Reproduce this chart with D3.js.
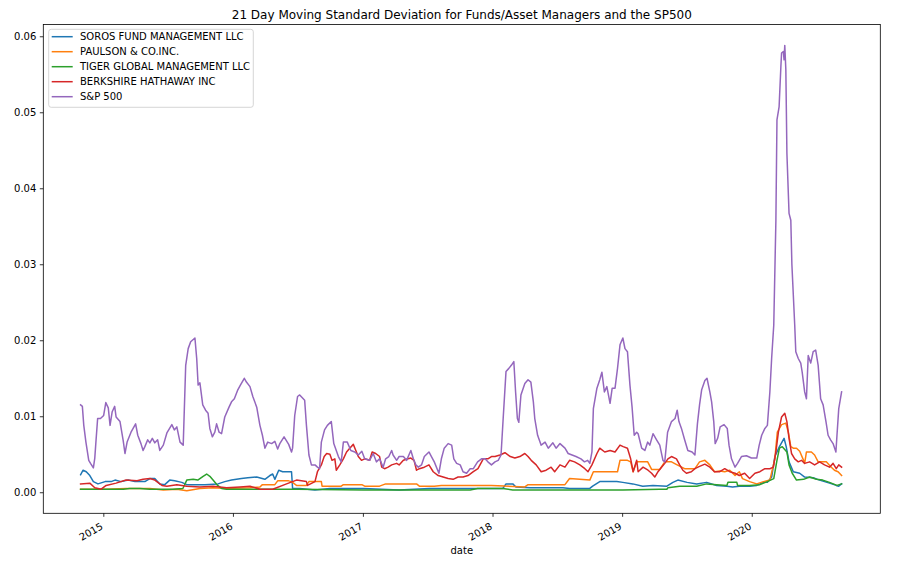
<!DOCTYPE html>
<html>
<head>
    <title>21 Day Moving Standard Deviation</title>
    <style>
        body { margin: 0; background: #fff; }
        svg, svg text { font-family: "DejaVu Sans", sans-serif; }
        .tick text { font-size: 10px; fill: #000; font-family: "DejaVu Sans", sans-serif; }
        .series { fill: none; stroke-width: 1.5px; stroke-linejoin: round; stroke-linecap: square; }
    </style>
    <script src="https://d3js.org/d3.v7.min.js"></script>
</head>
<body>
<svg width="921" height="563"></svg>
<script>
// series names and colours (legend order)
const seriesNames = ["SOROS FUND MANAGEMENT LLC", "PAULSON & CO.INC.", "TIGER GLOBAL MANAGEMENT LLC", "BERKSHIRE HATHAWAY INC", "S&P 500"];
const seriesColors = ["#1f77b4", "#ff7f0e", "#2ca02c", "#d62728", "#9467bd"];
const yTicks = [0.00, 0.01, 0.02, 0.03, 0.04, 0.05, 0.06];
const xTickYears = ["2015", "2016", "2017", "2018", "2019", "2020"];

// values, one [date, std] list per series
const soros = [
["2014-10-29",0.0023],["2014-11-05",0.0029],["2014-11-14",0.0027],["2014-11-24",0.0022],["2014-12-04",0.0014],
["2014-12-17",0.0011],["2015-01-06",0.0014],["2015-01-23",0.0014],["2015-02-03",0.0016],["2015-02-20",0.0014],
["2015-03-12",0.0016],["2015-03-31",0.0014],["2015-04-28",0.0014],["2015-05-12",0.0018],["2015-05-26",0.0018],
["2015-06-09",0.0011],["2015-06-23",0.0010],["2015-07-07",0.0016],["2015-07-21",0.0015],["2015-08-10",0.0013],
["2015-08-24",0.0010],["2015-09-16",0.0010],["2015-10-14",0.0010],["2015-11-20",0.0011],["2015-12-09",0.0014],
["2015-12-28",0.0016],["2016-01-25",0.0018],["2016-02-12",0.0019],["2016-03-08",0.0020],["2016-03-31",0.0017],
["2016-04-14",0.0022],["2016-04-22",0.0024],["2016-04-28",0.0017],["2016-05-09",0.0029],["2016-05-20",0.0027],
["2016-06-06",0.0027],["2016-06-14",0.0027],["2016-06-17",0.0005],["2016-07-07",0.0005],["2016-08-19",0.0003],
["2016-09-30",0.0005],["2017-01-03",0.0005],["2017-04-13",0.0003],["2017-07-07",0.0005],["2018-01-30",0.0005],
["2018-02-08",0.0011],["2018-02-27",0.0011],["2018-03-08",0.0007],["2018-04-17",0.0006],["2018-07-18",0.0006],
["2018-08-06",0.0005],["2018-10-02",0.0005],["2018-10-10",0.0008],["2018-10-30",0.0014],["2018-12-17",0.0014],
["2019-01-03",0.0013],["2019-01-31",0.0011],["2019-02-28",0.0008],["2019-03-29",0.0009],["2019-05-07",0.0008],
["2019-05-24",0.0013],["2019-06-07",0.0016],["2019-07-03",0.0013],["2019-07-30",0.0011],["2019-08-27",0.0013],
["2019-09-24",0.0009],["2019-10-23",0.0008],["2019-11-08",0.0007],["2019-11-27",0.0008],["2019-12-26",0.0008],
["2020-01-15",0.0009],["2020-02-03",0.0013],["2020-02-14",0.0013],["2020-02-26",0.0020],["2020-03-06",0.0047],
["2020-03-19",0.0060],["2020-04-01",0.0071],["2020-04-07",0.0060],["2020-04-15",0.0040],["2020-04-27",0.0027],
["2020-05-15",0.0025],["2020-05-29",0.0020],["2020-06-22",0.0019],["2020-07-10",0.0016],["2020-08-07",0.0012],
["2020-08-26",0.0009],["2020-09-02",0.0008],["2020-09-10",0.0011]
];

const paulson = [
["2014-10-29",0.0004],["2015-01-09",0.0004],["2015-03-06",0.0005],["2015-05-12",0.0005],["2015-06-19",0.0003],
["2015-07-27",0.0004],["2015-08-24",0.0002],["2015-09-30",0.0005],["2015-11-06",0.0006],["2015-12-14",0.0005],
["2016-02-18",0.0006],["2016-03-17",0.0007],["2016-03-24",0.0010],["2016-04-28",0.0010],["2016-05-06",0.0015],
["2016-06-06",0.0015],["2016-06-14",0.0014],["2016-06-28",0.0009],["2016-07-26",0.0009],["2016-08-02",0.0014],
["2016-09-06",0.0014],["2016-09-08",0.0008],["2016-11-01",0.0008],["2016-11-07",0.0010],["2016-12-29",0.0010],
["2017-01-06",0.0008],["2017-02-17",0.0008],["2017-03-06",0.0011],["2017-06-01",0.0011],["2017-06-09",0.0008],
["2017-07-21",0.0008],["2017-08-10",0.0009],["2017-10-20",0.0009],["2017-12-29",0.0009],["2018-04-02",0.0007],
["2018-04-11",0.0010],["2018-07-24",0.0010],["2018-08-06",0.0018],["2018-10-02",0.0016],["2018-10-12",0.0027],
["2018-12-19",0.0027],["2018-12-26",0.0042],["2019-01-16",0.0042],["2019-01-25",0.0040],["2019-02-01",0.0027],
["2019-02-11",0.0040],["2019-03-14",0.0040],["2019-03-25",0.0030],["2019-04-17",0.0030],["2019-05-01",0.0040],
["2019-05-20",0.0040],["2019-06-05",0.0036],["2019-06-26",0.0031],["2019-07-25",0.0031],["2019-08-07",0.0040],
["2019-08-22",0.0042],["2019-09-05",0.0036],["2019-09-18",0.0027],["2019-10-03",0.0028],["2019-10-17",0.0027],
["2019-10-31",0.0029],["2019-11-15",0.0022],["2019-11-27",0.0027],["2019-12-06",0.0018],["2019-12-26",0.0014],
["2020-01-15",0.0011],["2020-02-03",0.0014],["2020-02-21",0.0016],["2020-03-06",0.0044],["2020-03-13",0.0079],
["2020-03-25",0.0089],["2020-04-06",0.0091],["2020-04-13",0.0079],["2020-04-20",0.0060],["2020-04-27",0.0058],
["2020-05-06",0.0058],["2020-05-15",0.0054],["2020-05-26",0.0042],["2020-05-29",0.0038],["2020-06-03",0.0053],
["2020-06-17",0.0053],["2020-06-26",0.0049],["2020-07-06",0.0040],["2020-07-29",0.0040],["2020-08-12",0.0033],
["2020-08-21",0.0029],["2020-08-31",0.0027],["2020-09-10",0.0022]
];

const tiger = [
["2014-10-29",0.0004],["2015-02-26",0.0004],["2015-03-16",0.0005],["2015-04-14",0.0005],["2015-05-12",0.0004],
["2015-07-16",0.0004],["2015-08-13",0.0005],["2015-08-24",0.0016],["2015-09-11",0.0017],["2015-09-24",0.0016],
["2015-10-09",0.0021],["2015-10-19",0.0024],["2015-10-28",0.0021],["2015-11-06",0.0016],["2015-11-19",0.0009],
["2015-11-30",0.0005],["2015-12-14",0.0004],["2016-06-30",0.0004],["2017-01-03",0.0003],["2017-10-30",0.0003],
["2017-11-20",0.0005],["2018-01-30",0.0005],["2018-02-27",0.0003],["2018-10-30",0.0003],["2019-01-03",0.0003],
["2019-04-17",0.0004],["2019-05-07",0.0004],["2019-05-10",0.0006],["2019-06-12",0.0008],["2019-07-30",0.0008],
["2019-08-27",0.0011],["2019-10-23",0.0009],["2019-10-26",0.0013],["2019-11-20",0.0013],["2019-11-22",0.0009],
["2019-12-26",0.0009],["2020-01-24",0.0010],["2020-02-14",0.0014],["2020-03-03",0.0018],["2020-03-12",0.0042],
["2020-03-19",0.0058],["2020-03-27",0.0060],["2020-04-09",0.0053],["2020-04-15",0.0036],["2020-04-24",0.0025],
["2020-05-06",0.0016],["2020-05-26",0.0017],["2020-06-12",0.0020],["2020-07-01",0.0017],["2020-07-19",0.0016],
["2020-08-07",0.0013],["2020-08-28",0.0009],["2020-09-10",0.0011]
];

const berkshire = [
["2014-10-29",0.0011],["2014-11-24",0.0012],["2014-12-08",0.0006],["2014-12-26",0.0004],["2015-01-09",0.0009],
["2015-02-06",0.0012],["2015-03-06",0.0016],["2015-04-06",0.0015],["2015-04-23",0.0017],["2015-05-12",0.0018],
["2015-05-26",0.0016],["2015-06-15",0.0009],["2015-06-29",0.0008],["2015-07-27",0.0010],["2015-08-24",0.0008],
["2015-09-30",0.0007],["2015-11-06",0.0008],["2015-12-14",0.0006],["2016-01-21",0.0007],["2016-02-18",0.0008],
["2016-03-17",0.0004],["2016-04-22",0.0004],["2016-05-31",0.0011],["2016-06-28",0.0016],["2016-07-26",0.0014],
["2016-07-29",0.0009],["2016-08-19",0.0014],["2016-08-26",0.0027],["2016-09-06",0.0036],["2016-09-14",0.0047],
["2016-09-21",0.0051],["2016-09-30",0.0050],["2016-10-06",0.0042],["2016-10-14",0.0044],["2016-10-18",0.0029],
["2016-10-28",0.0036],["2016-11-07",0.0044],["2016-11-16",0.0053],["2016-11-25",0.0058],["2016-12-05",0.0063],
["2016-12-12",0.0055],["2016-12-19",0.0047],["2016-12-28",0.0042],["2017-01-06",0.0044],["2017-01-20",0.0042],
["2017-01-27",0.0053],["2017-02-06",0.0051],["2017-02-17",0.0047],["2017-02-23",0.0033],["2017-03-03",0.0031],
["2017-03-13",0.0033],["2017-03-23",0.0036],["2017-04-06",0.0038],["2017-04-13",0.0036],["2017-04-25",0.0042],
["2017-05-08",0.0044],["2017-05-16",0.0045],["2017-05-25",0.0042],["2017-06-01",0.0029],["2017-06-09",0.0031],
["2017-06-23",0.0033],["2017-07-06",0.0036],["2017-07-18",0.0027],["2017-08-01",0.0022],["2017-08-15",0.0020],
["2017-08-29",0.0018],["2017-09-12",0.0017],["2017-09-26",0.0020],["2017-10-10",0.0020],["2017-10-24",0.0022],
["2017-11-08",0.0027],["2017-11-21",0.0031],["2017-12-06",0.0044],["2017-12-19",0.0044],["2017-12-29",0.0047],
["2018-01-08",0.0047],["2018-01-22",0.0049],["2018-02-05",0.0052],["2018-02-20",0.0047],["2018-03-05",0.0045],
["2018-03-19",0.0047],["2018-04-02",0.0051],["2018-04-11",0.0047],["2018-04-20",0.0042],["2018-05-04",0.0036],
["2018-05-18",0.0027],["2018-06-01",0.0029],["2018-06-15",0.0033],["2018-06-25",0.0027],["2018-07-10",0.0036],
["2018-07-24",0.0033],["2018-08-06",0.0042],["2018-08-20",0.0040],["2018-09-04",0.0036],["2018-09-18",0.0031],
["2018-09-27",0.0027],["2018-10-08",0.0036],["2018-10-22",0.0051],["2018-10-30",0.0058],["2018-11-13",0.0053],
["2018-11-28",0.0055],["2018-12-12",0.0053],["2018-12-26",0.0062],["2019-01-04",0.0060],["2019-01-16",0.0058],
["2019-01-25",0.0044],["2019-02-01",0.0027],["2019-02-11",0.0042],["2019-02-15",0.0027],["2019-03-01",0.0033],
["2019-03-15",0.0029],["2019-03-25",0.0025],["2019-04-03",0.0020],["2019-04-12",0.0027],["2019-04-22",0.0033],
["2019-05-01",0.0038],["2019-05-10",0.0044],["2019-05-20",0.0047],["2019-06-03",0.0044],["2019-06-12",0.0036],
["2019-06-21",0.0029],["2019-07-01",0.0025],["2019-07-15",0.0027],["2019-07-25",0.0031],["2019-08-07",0.0034],
["2019-08-22",0.0037],["2019-09-05",0.0033],["2019-09-18",0.0027],["2019-10-03",0.0027],["2019-10-17",0.0031],
["2019-10-31",0.0027],["2019-11-15",0.0025],["2019-11-27",0.0022],["2019-12-12",0.0025],["2019-12-26",0.0018],
["2020-01-10",0.0025],["2020-01-24",0.0027],["2020-02-07",0.0031],["2020-02-21",0.0031],["2020-03-02",0.0033],
["2020-03-09",0.0053],["2020-03-16",0.0079],["2020-03-25",0.0099],["2020-04-03",0.0104],["2020-04-09",0.0093],
["2020-04-15",0.0071],["2020-04-22",0.0051],["2020-05-01",0.0044],["2020-05-11",0.0040],["2020-05-20",0.0042],
["2020-05-29",0.0038],["2020-06-12",0.0040],["2020-06-26",0.0036],["2020-07-10",0.0040],["2020-07-24",0.0036],
["2020-08-07",0.0033],["2020-08-17",0.0038],["2020-08-26",0.0031],["2020-09-02",0.0036],["2020-09-10",0.0033]
];

const sp500 = [
["2014-10-29",0.0115],["2014-11-03",0.0113],["2014-11-07",0.0088],["2014-11-13",0.0066],["2014-11-21",0.0042],
["2014-11-26",0.0038],["2014-12-04",0.0032],["2014-12-08",0.0045],["2014-12-11",0.0065],["2014-12-16",0.0097],
["2014-12-24",0.0097],["2015-01-02",0.0101],["2015-01-08",0.0118],["2015-01-15",0.0111],["2015-01-20",0.0088],
["2015-01-26",0.0106],["2015-02-02",0.0113],["2015-02-06",0.0099],["2015-02-17",0.0093],["2015-02-26",0.0068],
["2015-03-03",0.0051],["2015-03-09",0.0066],["2015-03-20",0.0079],["2015-04-02",0.0090],["2015-04-08",0.0075],
["2015-04-17",0.0064],["2015-04-23",0.0055],["2015-04-28",0.0060],["2015-05-06",0.0069],["2015-05-12",0.0065],
["2015-05-19",0.0071],["2015-05-26",0.0065],["2015-06-03",0.0069],["2015-06-09",0.0055],["2015-06-19",0.0062],
["2015-06-29",0.0078],["2015-07-13",0.0089],["2015-07-20",0.0082],["2015-07-27",0.0086],["2015-08-05",0.0066],
["2015-08-14",0.0062],["2015-08-21",0.0167],["2015-08-28",0.0189],["2015-09-04",0.0198],["2015-09-16",0.0203],
["2015-09-21",0.0176],["2015-09-25",0.0141],["2015-09-30",0.0144],["2015-10-08",0.0115],["2015-10-16",0.0108],
["2015-10-23",0.0104],["2015-10-28",0.0084],["2015-11-04",0.0073],["2015-11-11",0.0079],["2015-11-16",0.0090],
["2015-11-23",0.0079],["2015-11-30",0.0077],["2015-12-09",0.0099],["2015-12-21",0.0112],["2015-12-28",0.0119],
["2016-01-05",0.0123],["2016-01-14",0.0134],["2016-01-22",0.0141],["2016-02-02",0.0150],["2016-02-08",0.0145],
["2016-02-18",0.0139],["2016-02-26",0.0126],["2016-03-08",0.0112],["2016-03-17",0.0088],["2016-03-24",0.0075],
["2016-03-31",0.0058],["2016-04-08",0.0066],["2016-04-19",0.0064],["2016-04-28",0.0067],["2016-05-06",0.0057],
["2016-05-12",0.0064],["2016-05-24",0.0073],["2016-06-06",0.0063],["2016-06-14",0.0053],["2016-06-17",0.0058],
["2016-06-23",0.0101],["2016-07-01",0.0126],["2016-07-07",0.0128],["2016-07-21",0.0121],["2016-07-26",0.0088],
["2016-08-02",0.0049],["2016-08-09",0.0036],["2016-08-19",0.0036],["2016-08-26",0.0033],["2016-09-01",0.0031],
["2016-09-06",0.0066],["2016-09-15",0.0082],["2016-09-23",0.0088],["2016-10-04",0.0093],["2016-10-11",0.0064],
["2016-10-18",0.0055],["2016-10-24",0.0047],["2016-11-01",0.0040],["2016-11-07",0.0066],["2016-11-18",0.0066],
["2016-11-28",0.0055],["2016-12-09",0.0053],["2016-12-19",0.0049],["2016-12-29",0.0054],["2017-01-06",0.0044],
["2017-01-20",0.0042],["2017-01-30",0.0051],["2017-02-08",0.0040],["2017-02-17",0.0044],["2017-02-27",0.0033],
["2017-03-06",0.0044],["2017-03-15",0.0047],["2017-03-23",0.0055],["2017-03-27",0.0049],["2017-04-06",0.0042],
["2017-04-13",0.0047],["2017-04-25",0.0047],["2017-05-04",0.0042],["2017-05-16",0.0055],["2017-05-23",0.0044],
["2017-05-30",0.0036],["2017-06-06",0.0033],["2017-06-15",0.0036],["2017-06-23",0.0047],["2017-07-06",0.0053],
["2017-07-13",0.0047],["2017-07-21",0.0040],["2017-08-03",0.0025],["2017-08-10",0.0044],["2017-08-18",0.0058],
["2017-08-29",0.0064],["2017-09-08",0.0062],["2017-09-14",0.0044],["2017-09-22",0.0038],["2017-10-02",0.0036],
["2017-10-10",0.0027],["2017-10-20",0.0025],["2017-10-30",0.0031],["2017-11-08",0.0031],["2017-11-20",0.0040],
["2017-12-01",0.0044],["2017-12-11",0.0044],["2017-12-19",0.0040],["2017-12-29",0.0036],["2018-01-08",0.0040],
["2018-01-17",0.0042],["2018-01-25",0.0049],["2018-01-31",0.0097],["2018-02-08",0.0159],["2018-02-16",0.0163],
["2018-02-23",0.0167],["2018-03-02",0.0172],["2018-03-07",0.0132],["2018-03-12",0.0097],["2018-03-16",0.0092],
["2018-03-22",0.0128],["2018-04-02",0.0143],["2018-04-11",0.0148],["2018-04-19",0.0145],["2018-04-26",0.0119],
["2018-04-30",0.0097],["2018-05-08",0.0075],["2018-05-18",0.0062],["2018-05-29",0.0066],["2018-06-07",0.0058],
["2018-06-20",0.0065],["2018-06-29",0.0058],["2018-07-10",0.0064],["2018-07-24",0.0058],["2018-08-02",0.0051],
["2018-08-13",0.0049],["2018-08-24",0.0047],["2018-09-07",0.0044],["2018-09-17",0.0040],["2018-09-26",0.0042],
["2018-10-02",0.0038],["2018-10-08",0.0053],["2018-10-12",0.0110],["2018-10-22",0.0137],["2018-10-30",0.0148],
["2018-11-05",0.0158],["2018-11-12",0.0132],["2018-11-19",0.0139],["2018-11-28",0.0117],["2018-12-04",0.0137],
["2018-12-12",0.0137],["2018-12-19",0.0163],["2018-12-26",0.0194],["2019-01-03",0.0203],["2019-01-09",0.0189],
["2019-01-16",0.0185],["2019-01-23",0.0141],["2019-01-29",0.0112],["2019-02-04",0.0075],["2019-02-11",0.0079],
["2019-02-15",0.0077],["2019-02-25",0.0058],["2019-03-06",0.0055],["2019-03-14",0.0066],["2019-03-20",0.0062],
["2019-03-29",0.0077],["2019-04-08",0.0069],["2019-04-17",0.0062],["2019-04-26",0.0042],["2019-05-01",0.0040],
["2019-05-09",0.0079],["2019-05-20",0.0093],["2019-05-30",0.0097],["2019-06-05",0.0108],["2019-06-10",0.0093],
["2019-06-17",0.0084],["2019-06-26",0.0069],["2019-07-05",0.0055],["2019-07-17",0.0053],["2019-07-25",0.0049],
["2019-08-01",0.0090],["2019-08-07",0.0115],["2019-08-13",0.0135],["2019-08-22",0.0147],["2019-08-28",0.0150],
["2019-09-05",0.0132],["2019-09-10",0.0119],["2019-09-16",0.0093],["2019-09-20",0.0064],["2019-09-27",0.0071],
["2019-10-04",0.0086],["2019-10-15",0.0089],["2019-10-24",0.0084],["2019-10-29",0.0062],["2019-11-05",0.0044],
["2019-11-15",0.0033],["2019-11-22",0.0038],["2019-12-03",0.0047],["2019-12-17",0.0048],["2019-12-31",0.0045],
["2020-01-15",0.0045],["2020-01-22",0.0062],["2020-01-29",0.0075],["2020-02-07",0.0084],["2020-02-14",0.0088],
["2020-02-21",0.0132],["2020-02-26",0.0176],["2020-03-03",0.0220],["2020-03-09",0.0358],["2020-03-12",0.0490],
["2020-03-18",0.0507],["2020-03-23",0.0560],["2020-03-25",0.0578],["2020-03-30",0.0580],["2020-04-01",0.0569],
["2020-04-03",0.0588],["2020-04-06",0.0556],["2020-04-09",0.0446],["2020-04-15",0.0367],["2020-04-20",0.0358],
["2020-04-23",0.0300],["2020-05-01",0.0220],["2020-05-04",0.0185],["2020-05-11",0.0176],["2020-05-18",0.0170],
["2020-05-22",0.0158],["2020-05-29",0.0132],["2020-06-03",0.0123],["2020-06-08",0.0180],["2020-06-15",0.0170],
["2020-06-22",0.0185],["2020-06-29",0.0187],["2020-07-06",0.0167],["2020-07-13",0.0123],["2020-07-20",0.0115],
["2020-07-28",0.0093],["2020-08-03",0.0075],["2020-08-10",0.0069],["2020-08-17",0.0064],["2020-08-25",0.0053],
["2020-08-28",0.0075],["2020-09-02",0.0110],["2020-09-10",0.0132]
];

const allSeries = [soros, paulson, tiger, berkshire, sp500];

const svg = d3.select("svg");
const margin = { left: 43.3, right: 880.3, top: 24.5, bottom: 513.3 };
const parse = d3.timeParse("%Y-%m-%d");

const x = d3.scaleTime()
    .domain([parse("2014-07-16"), parse("2020-12-28")])
    .range([margin.left, margin.right]);
const y = d3.scaleLinear()
    .domain([-0.00277, 0.06155])
    .range([margin.bottom, margin.top]);

svg.append("clipPath").attr("id", "plotArea")
    .append("rect")
    .attr("x", margin.left).attr("y", margin.top)
    .attr("width", margin.right - margin.left)
    .attr("height", margin.bottom - margin.top);

// lines
const line = d3.line()
    .x(d => x(parse(d[0])))
    .y(d => y(d[1]));

svg.append("g").attr("clip-path", "url(#plotArea)")
    .selectAll("path")
    .data(allSeries)
    .enter()
    .append("path")
    .attr("class", "series")
    .attr("stroke", (d, i) => seriesColors[i])
    .attr("d", line);

// axes
const xAxis = d3.axisBottom(x)
    .tickValues(xTickYears.map(t => parse(t + "-01-01")))
    .tickFormat(d3.timeFormat("%Y"))
    .tickSize(3.5).tickPadding(3.5);
const gx = svg.append("g")
    .attr("transform", `translate(0,${margin.bottom})`)
    .call(xAxis)
    .attr("font-family", "DejaVu Sans").attr("font-size", 10);
gx.select(".domain").remove();
gx.selectAll(".tick line").attr("stroke", "#000").attr("stroke-width", 0.8);
gx.selectAll(".tick text")
    .attr("text-anchor", "end")
    .attr("dy", null)
    .attr("y", 0)
    .attr("transform", "translate(0,15) rotate(-30)");

const yAxis = d3.axisLeft(y)
    .tickValues(yTicks)
    .tickFormat(d3.format(".2f"))
    .tickSize(3.5).tickPadding(3.5);
const gy = svg.append("g")
    .attr("transform", `translate(${margin.left},0)`)
    .call(yAxis)
    .attr("font-family", "DejaVu Sans").attr("font-size", 10);
gy.select(".domain").remove();
gy.selectAll(".tick line").attr("stroke", "#000").attr("stroke-width", 0.8);

// frame
svg.append("rect")
    .attr("x", margin.left).attr("y", margin.top)
    .attr("width", margin.right - margin.left)
    .attr("height", margin.bottom - margin.top)
    .attr("fill", "none").attr("stroke", "#000").attr("stroke-width", 0.8);

// title and axis label
svg.append("text")
    .attr("x", (margin.left + margin.right) / 2).attr("y", 18.5)
    .attr("text-anchor", "middle")
    .style("font-size", "12px")
    .text("21 Day Moving Standard Deviation for Funds/Asset Managers and the SP500");

svg.append("text")
    .attr("x", (margin.left + margin.right) / 2).attr("y", 554)
    .attr("text-anchor", "middle")
    .style("font-size", "10px")
    .text("date");

// legend
const legend = svg.append("g").attr("transform", "translate(48.7,29.3)");
legend.append("rect")
    .attr("width", 204.6).attr("height", 78).attr("rx", 2.5)
    .attr("fill", "#fff").attr("fill-opacity", 0.8)
    .attr("stroke", "#cccccc").attr("stroke-width", 0.8);
seriesNames.forEach((name, i) => {
    const row = legend.append("g").attr("transform", `translate(0,${7.4 + i * 15})`);
    row.append("line")
        .attr("x1", 3).attr("x2", 24)
        .attr("stroke", seriesColors[i]).attr("stroke-width", 1.5);
    row.append("text")
        .attr("x", 31.3).attr("y", 3.6)
        .style("font-size", "10px")
        .text(name);
});
</script>
</body>
</html>
